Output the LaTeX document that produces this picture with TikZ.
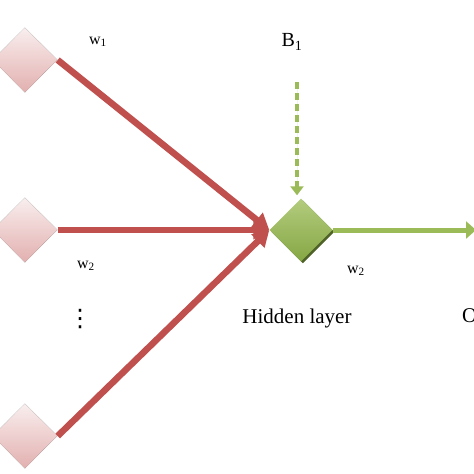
\documentclass[tikz,border=0pt]{standalone}
\usepackage{fontspec}
\setmainfont{Liberation Serif}
\newfontfamily\dotsfont{DejaVu Sans}
\usepackage{tikz}
\usetikzlibrary{arrows.meta}
\usetikzlibrary{shapes.geometric, shadows, positioning}

\definecolor{wred}{HTML}{C0504D}
\definecolor{wgreen}{HTML}{9BBB59}
\definecolor{wgreendark}{HTML}{4F6228}
\definecolor{pinktop}{HTML}{F9EEEE}
\definecolor{pinkbot}{HTML}{E2B0AF}
\definecolor{greentop}{HTML}{B3CC7E}
\definecolor{greenbot}{HTML}{86A744}

\begin{document}
\begin{tikzpicture}[x=1pt, y=-1pt, >={Triangle[length=16pt, width=18pt]}]
		
		\tikzset{
			inputnode/.style={diamond, aspect=1, minimum size=65pt, inner sep=0pt, top color=pinktop, bottom color=pinkbot, draw=black!55, densely dotted, thin},
			hiddennode/.style={diamond, aspect=1, minimum size=63pt, inner sep=0pt, top color=greentop, bottom color=greenbot, drop shadow={shadow xshift=1.8pt, shadow yshift=-1.8pt, fill=wgreendark, opacity=1}},
			redarrow/.style={->, draw=wred, fill=wred, line width=6.5pt},
			greenarrow/.style={-{Triangle[length=10pt, width=17pt]}, draw=wgreen, fill=wgreen, line width=5pt},
			biasarrow/.style={-{Triangle[length=9pt, width=13pt]}, draw=wgreen, fill=wgreen, line width=4pt, dash pattern=on 7pt off 4pt},
			weight/.style={font=\fontsize{16}{18}\selectfont},
			caption/.style={font=\fontsize{21}{24}\selectfont},
		}
		
		\useasboundingbox (0,0) rectangle (474,474);
		\clip (0,0) rectangle (474,474);
		
		\node [inputnode] (in1) at (25,60) {};
		\node [inputnode] (in2) at (25,230) {};
		\node [inputnode] (in3) at (25,436) {};
		\node [hiddennode] (hid) at (301,230) {};
		
		\coordinate (bias) at (297,82);
		\coordinate (out) at (476,230);
		
		\draw [redarrow] (in1.east) -- (hid.west);
		\draw [redarrow] (in2.east) -- (hid.west);
		\draw [redarrow] (in3.east) -- (hid.west);
		
		\draw [biasarrow, shorten >=3pt] (bias) -- (bias |- hid.north);
		\draw [greenarrow] (hid.east) -- (out);
		
		\node [weight] (w1) at (98,42) {w\textsubscript{1}};
		\node [weight] (w2) at (86,266) {w\textsubscript{2}};
		\node [weight] (w3) at (356,271) {w\textsubscript{2}};
		\node [font=\fontsize{20}{22}\selectfont] (b1) at (292,42) {B\textsubscript{1}};
		\node [font=\dotsfont\fontsize{24}{26}\selectfont] (dots) at (80,319) {⋮};
		
		\node [caption] (hlabel) at (297,318) {Hidden layer};
		\node [caption, anchor=west, inner sep=0pt] (olabel) at (462,318) {Output};
		\end{tikzpicture}
\end{document}
